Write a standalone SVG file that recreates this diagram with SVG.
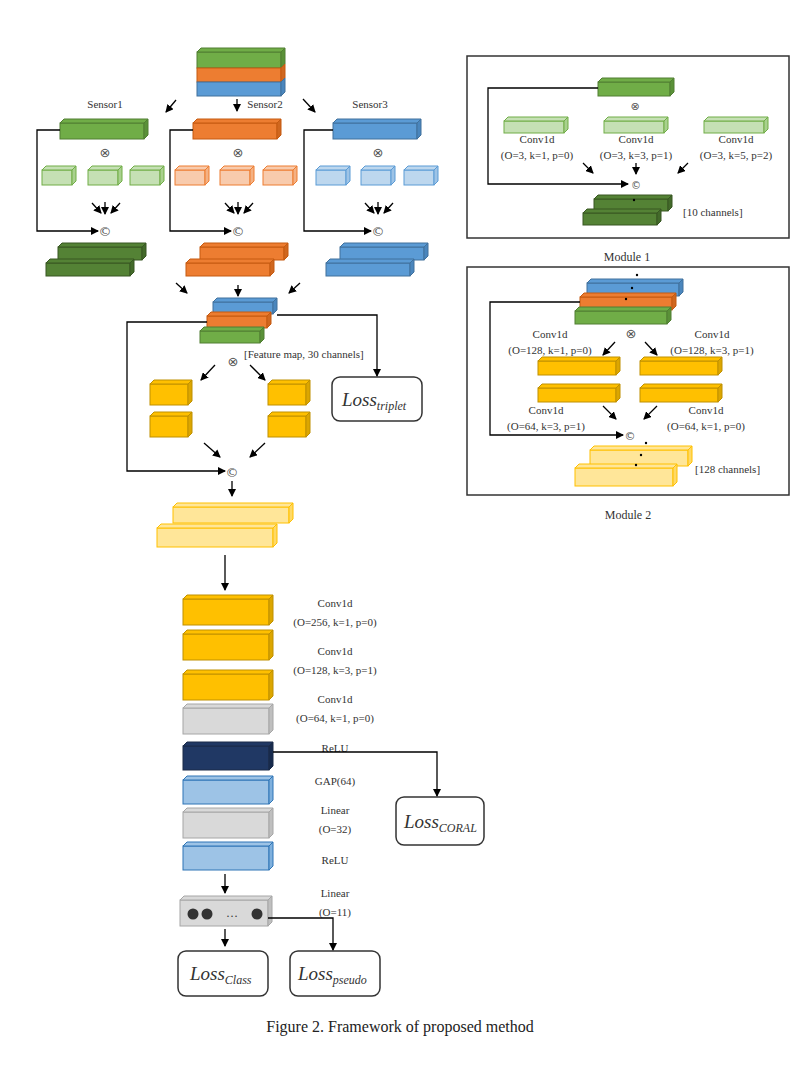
<svg xmlns="http://www.w3.org/2000/svg" width="812" height="1089" viewBox="0 0 812 1089">
<defs>
<marker id="ah" markerWidth="8" markerHeight="8" refX="7" refY="4" orient="auto" markerUnits="userSpaceOnUse"><path d="M0,0 L8,4 L0,8Z" fill="#000"/></marker>
</defs>
<style>
text{font-family:"Liberation Serif",serif;font-size:11px;fill:#333}
.sym{font-family:"DejaVu Sans",sans-serif;font-size:13px;fill:#555;text-anchor:middle}
.c{text-anchor:middle}
.ln{fill:none;stroke:#000;stroke-width:1.3}
.ar{fill:none;stroke:#000;stroke-width:1.3;marker-end:url(#ah)}
.loss{fill:#fff;stroke:#333;stroke-width:1.5}
.lt{font-style:italic;font-size:19px;fill:#333}
.lt tspan{font-size:12px}
.g *{stroke:#507e32;stroke-width:1}.g .f,.g .t{fill:#70ad47}.g .s{fill:#5a9138}
.o *{stroke:#c55a11;stroke-width:1}.o .f,.o .t{fill:#ed7d31}.o .s{fill:#d0671f}
.b *{stroke:#41719c;stroke-width:1}.b .f,.b .t{fill:#5b9bd5}.b .s{fill:#4a86bd}
.lg *{stroke:#70ad47;stroke-width:1}.lg .f,.lg .t{fill:#c5e0b4}.lg .s{fill:#a9d18e}
.lo *{stroke:#ed7d31;stroke-width:1}.lo .f,.lo .t{fill:#f8cbad}.lo .s{fill:#f4b183}
.lb *{stroke:#5b9bd5;stroke-width:1}.lb .f,.lb .t{fill:#bdd7ee}.lb .s{fill:#9dc3e6}
.dg *{stroke:#385723;stroke-width:1}.dg .f,.dg .t{fill:#548235}.dg .s{fill:#436a2a}
.y *{stroke:#bf9000;stroke-width:1}.y .f,.y .t{fill:#ffc000}.y .s{fill:#dca600}
.ly *{stroke:#ffc000;stroke-width:1}.ly .f,.ly .t{fill:#ffe699}.ly .s{fill:#ffd966}
.gr *{stroke:#a6a6a6;stroke-width:1}.gr .f,.gr .t{fill:#d9d9d9}.gr .s{fill:#bfbfbf}
.nv *{stroke:#1a2a48;stroke-width:1}.nv .f,.nv .t{fill:#203864}.nv .s{fill:#172a4d}
.pb *{stroke:#2e75b6;stroke-width:1}.pb .f,.pb .t{fill:#9dc3e6}.pb .s{fill:#7fb0dd}
.frame{fill:none;stroke:#333;stroke-width:1.5}
</style>
<rect width="812" height="1089" fill="#fff"/>

<g id="input">
<g class="g"><rect class="f" x="197" y="52" width="84" height="16"/><path class="t" d="M197,52L201,48L285,48L281,52Z"/><path class="s" d="M281,52L285,48L285,64L281,68Z"/></g>
<g class="o"><rect class="f" x="197" y="68" width="84" height="14"/><path class="s" d="M281,68L285,64L285,78L281,82Z"/></g>
<g class="b"><rect class="f" x="197" y="82" width="84" height="14"/><path class="s" d="M281,82L285,78L285,92L281,96Z"/></g>
</g>

<g id="labels-sensors">
<text x="105" y="108" class="c">Sensor1</text>
<text x="265" y="108" class="c">Sensor2</text>
<text x="370" y="108" class="c">Sensor3</text>
</g>

<g id="sensor1">
<g class="g"><rect class="f" x="60" y="123" width="84" height="16"/><path class="t" d="M60,123L64,119L148,119L144,123Z"/><path class="s" d="M144,123L148,119L148,135L144,139Z"/></g>
<g class="lg"><rect class="f" x="42" y="170" width="30" height="15"/><path class="t" d="M42,170L46,166L76,166L72,170Z"/><path class="s" d="M72,170L76,166L76,181L72,185Z"/></g>
<g class="lg"><rect class="f" x="88" y="170" width="30" height="15"/><path class="t" d="M88,170L92,166L122,166L118,170Z"/><path class="s" d="M118,170L122,166L122,181L118,185Z"/></g>
<g class="lg"><rect class="f" x="130" y="170" width="30" height="15"/><path class="t" d="M130,170L134,166L164,166L160,170Z"/><path class="s" d="M160,170L164,166L164,181L160,185Z"/></g>
<g class="dg"><rect class="f" x="58" y="247" width="84" height="13"/><path class="t" d="M58,247L62,243L146,243L142,247Z"/><path class="s" d="M142,247L146,243L146,256L142,260Z"/></g>
<g class="dg"><rect class="f" x="46" y="263" width="84" height="13"/><path class="t" d="M46,263L50,259L134,259L130,263Z"/><path class="s" d="M130,263L134,259L134,272L130,276Z"/></g>
<text x="105" y="157" class="sym">⊗</text><text x="105" y="236" class="sym">©</text>
</g>

<g id="sensor2">
<g class="o"><rect class="f" x="193" y="123" width="84" height="16"/><path class="t" d="M193,123L197,119L281,119L277,123Z"/><path class="s" d="M277,123L281,119L281,135L277,139Z"/></g>
<g class="lo"><rect class="f" x="175" y="170" width="30" height="15"/><path class="t" d="M175,170L179,166L209,166L205,170Z"/><path class="s" d="M205,170L209,166L209,181L205,185Z"/></g>
<g class="lo"><rect class="f" x="220" y="170" width="30" height="15"/><path class="t" d="M220,170L224,166L254,166L250,170Z"/><path class="s" d="M250,170L254,166L254,181L250,185Z"/></g>
<g class="lo"><rect class="f" x="263" y="170" width="30" height="15"/><path class="t" d="M263,170L267,166L297,166L293,170Z"/><path class="s" d="M293,170L297,166L297,181L293,185Z"/></g>
<g class="o"><rect class="f" x="200" y="247" width="84" height="13"/><path class="t" d="M200,247L204,243L288,243L284,247Z"/><path class="s" d="M284,247L288,243L288,256L284,260Z"/></g>
<g class="o"><rect class="f" x="186" y="263" width="84" height="13"/><path class="t" d="M186,263L190,259L274,259L270,263Z"/><path class="s" d="M270,263L274,259L274,272L270,276Z"/></g>
<text x="238" y="157" class="sym">⊗</text><text x="238" y="236" class="sym">©</text>
</g>

<g id="sensor3">
<g class="b"><rect class="f" x="333" y="123" width="84" height="16"/><path class="t" d="M333,123L337,119L421,119L417,123Z"/><path class="s" d="M417,123L421,119L421,135L417,139Z"/></g>
<g class="lb"><rect class="f" x="316" y="170" width="30" height="15"/><path class="t" d="M316,170L320,166L350,166L346,170Z"/><path class="s" d="M346,170L350,166L350,181L346,185Z"/></g>
<g class="lb"><rect class="f" x="361" y="170" width="30" height="15"/><path class="t" d="M361,170L365,166L395,166L391,170Z"/><path class="s" d="M391,170L395,166L395,181L391,185Z"/></g>
<g class="lb"><rect class="f" x="404" y="170" width="30" height="15"/><path class="t" d="M404,170L408,166L438,166L434,170Z"/><path class="s" d="M434,170L438,166L438,181L434,185Z"/></g>
<g class="b"><rect class="f" x="340" y="247" width="84" height="13"/><path class="t" d="M340,247L344,243L428,243L424,247Z"/><path class="s" d="M424,247L428,243L428,256L424,260Z"/></g>
<g class="b"><rect class="f" x="326" y="263" width="84" height="13"/><path class="t" d="M326,263L330,259L414,259L410,263Z"/><path class="s" d="M410,263L414,259L414,272L410,276Z"/></g>
<text x="378" y="157" class="sym">⊗</text><text x="378" y="236" class="sym">©</text>
</g>

<g id="module2-main">
<g class="b"><rect class="f" x="213" y="302" width="60" height="12"/><path class="t" d="M213,302L217,298L277,298L273,302Z"/><path class="s" d="M273,302L277,298L277,310L273,314Z"/></g>
<g class="o"><rect class="f" x="207" y="316" width="60" height="12"/><path class="t" d="M207,316L211,312L271,312L267,316Z"/><path class="s" d="M267,316L271,312L271,324L267,328Z"/></g>
<g class="g"><rect class="f" x="200" y="331" width="60" height="12"/><path class="t" d="M200,331L204,327L264,327L260,331Z"/><path class="s" d="M260,331L264,327L264,339L260,343Z"/></g>
<text x="233" y="366" class="sym">⊗</text>
<text x="244" y="358">[Feature map, 30 channels]</text>
<g class="y"><rect class="f" x="150" y="384" width="38" height="21"/><path class="t" d="M150,384L154,380L192,380L188,384Z"/><path class="s" d="M188,384L192,380L192,401L188,405Z"/></g>
<g class="y"><rect class="f" x="150" y="416" width="38" height="21"/><path class="t" d="M150,416L154,412L192,412L188,416Z"/><path class="s" d="M188,416L192,412L192,433L188,437Z"/></g>
<g class="y"><rect class="f" x="268" y="384" width="38" height="21"/><path class="t" d="M268,384L272,380L310,380L306,384Z"/><path class="s" d="M306,384L310,380L310,401L306,405Z"/></g>
<g class="y"><rect class="f" x="268" y="416" width="38" height="21"/><path class="t" d="M268,416L272,412L310,412L306,416Z"/><path class="s" d="M306,416L310,412L310,433L306,437Z"/></g>
<text x="232" y="477" class="sym">©</text>
<g class="ly"><rect class="f" x="173" y="507" width="116" height="16"/><path class="t" d="M173,507L177,503L293,503L289,507Z"/><path class="s" d="M289,507L293,503L293,519L289,523Z"/></g>
<g class="ly"><rect class="f" x="157" y="528" width="116" height="19"/><path class="t" d="M157,528L161,524L277,524L273,528Z"/><path class="s" d="M273,528L277,524L277,543L273,547Z"/></g>
</g>

<g id="loss-triplet"><rect class="loss" x="332" y="377" width="90" height="44" rx="8"/><text x="342" y="406" class="lt">Loss<tspan dy="4">triplet</tspan></text></g>

<g id="head">
<g class="y"><rect class="f" x="183" y="599" width="86" height="26"/><path class="t" d="M183,599L187,595L273,595L269,599Z"/><path class="s" d="M269,599L273,595L273,621L269,625Z"/></g>
<g class="y"><rect class="f" x="183" y="634" width="86" height="26"/><path class="t" d="M183,634L187,630L273,630L269,634Z"/><path class="s" d="M269,634L273,630L273,656L269,660Z"/></g>
<g class="y"><rect class="f" x="183" y="674" width="86" height="26"/><path class="t" d="M183,674L187,670L273,670L269,674Z"/><path class="s" d="M269,674L273,670L273,696L269,700Z"/></g>
<g class="gr"><rect class="f" x="183" y="708" width="86" height="26"/><path class="t" d="M183,708L187,704L273,704L269,708Z"/><path class="s" d="M269,708L273,704L273,730L269,734Z"/></g>
<g class="nv"><rect class="f" x="183" y="746" width="86" height="24"/><path class="t" d="M183,746L187,742L273,742L269,746Z"/><path class="s" d="M269,746L273,742L273,766L269,770Z"/></g>
<g class="pb"><rect class="f" x="183" y="780" width="86" height="24"/><path class="t" d="M183,780L187,776L273,776L269,780Z"/><path class="s" d="M269,780L273,776L273,800L269,804Z"/></g>
<g class="gr"><rect class="f" x="183" y="812" width="86" height="26"/><path class="t" d="M183,812L187,808L273,808L269,812Z"/><path class="s" d="M269,812L273,808L273,834L269,838Z"/></g>
<g class="pb"><rect class="f" x="183" y="846" width="86" height="24"/><path class="t" d="M183,846L187,842L273,842L269,846Z"/><path class="s" d="M269,846L273,842L273,866L269,870Z"/></g>
<text x="335" y="607" class="c">Conv1d</text><text x="335" y="626" class="c">(O=256, k=1, p=0)</text>
<text x="335" y="655" class="c">Conv1d</text><text x="335" y="674" class="c">(O=128, k=3, p=1)</text>
<text x="335" y="703" class="c">Conv1d</text><text x="335" y="722" class="c">(O=64, k=1, p=0)</text>
<text x="335" y="752" class="c">ReLU</text>
<text x="335" y="785" class="c">GAP(64)</text>
<text x="335" y="814" class="c">Linear</text><text x="335" y="833" class="c">(O=32)</text>
<text x="335" y="864" class="c">ReLU</text>
<text x="335" y="897" class="c">Linear</text><text x="335" y="916" class="c">(O=11)</text>
</g>

<g id="classifier">
<g class="gr"><rect class="f" x="180" y="900" width="88" height="26"/><path class="t" d="M180,900L184,896L272,896L268,900Z"/><path class="s" d="M268,900L272,896L272,922L268,926Z"/></g>
<circle cx="193" cy="914" r="5.5" fill="#333"/><circle cx="207" cy="914" r="5.5" fill="#333"/><circle cx="257" cy="914" r="5.5" fill="#333"/>
<text x="232" y="917" class="c" style="font-size:12px">…</text>
</g>

<g id="loss-coral"><rect class="loss" x="396" y="797" width="88" height="48" rx="8"/><text x="404" y="828" class="lt">Loss<tspan dy="4">CORAL</tspan></text></g>
<g id="loss-class"><rect class="loss" x="178" y="951" width="90" height="45" rx="8"/><text x="190" y="980" class="lt">Loss<tspan dy="4">Class</tspan></text></g>
<g id="loss-pseudo"><rect class="loss" x="290" y="951" width="90" height="45" rx="8"/><text x="298" y="980" class="lt">Loss<tspan dy="4">pseudo</tspan></text></g>

<g id="module1">
<rect class="frame" x="467" y="56" width="322" height="182"/>
<g class="g"><rect class="f" x="598" y="82" width="72" height="14"/><path class="t" d="M598,82L602,78L674,78L670,82Z"/><path class="s" d="M670,82L674,78L674,92L670,96Z"/></g>
<text x="635" y="110" class="sym" style="font-size:11px">⊗</text>
<g class="lg"><rect class="f" x="504" y="121" width="60" height="12"/><path class="t" d="M504,121L508,117L568,117L564,121Z"/><path class="s" d="M564,121L568,117L568,129L564,133Z"/></g>
<g class="lg"><rect class="f" x="604" y="121" width="60" height="12"/><path class="t" d="M604,121L608,117L668,117L664,121Z"/><path class="s" d="M664,121L668,117L668,129L664,133Z"/></g>
<g class="lg"><rect class="f" x="704" y="121" width="60" height="12"/><path class="t" d="M704,121L708,117L768,117L764,121Z"/><path class="s" d="M764,121L768,117L768,129L764,133Z"/></g>
<text x="537" y="143" class="c">Conv1d</text><text x="537" y="159" class="c">(O=3, k=1, p=0)</text>
<text x="636" y="143" class="c">Conv1d</text><text x="636" y="159" class="c">(O=3, k=3, p=1)</text>
<text x="736" y="143" class="c">Conv1d</text><text x="736" y="159" class="c">(O=3, k=5, p=2)</text>
<text x="636" y="189" class="sym" style="font-size:10px">©</text>
<g class="dg"><rect class="f" x="594" y="199" width="74" height="12"/><path class="t" d="M594,199L598,195L672,195L668,199Z"/><path class="s" d="M668,199L672,195L672,207L668,211Z"/></g>
<g class="dg"><rect class="f" x="583" y="213" width="74" height="12"/><path class="t" d="M583,213L587,209L661,209L657,213Z"/><path class="s" d="M657,213L661,209L661,221L657,225Z"/></g>
<circle cx="634" cy="200" r="1.2" fill="#000"/>
<text x="683" y="216">[10 channels]</text>
<text x="627" y="261" class="c" style="font-size:12px">Module 1</text>
</g>

<g id="module2">
<rect class="frame" x="467" y="267" width="322" height="228"/>
<g class="b"><rect class="f" x="587" y="283" width="92" height="13"/><path class="t" d="M587,283L591,279L683,279L679,283Z"/><path class="s" d="M679,283L683,279L683,292L679,296Z"/></g>
<g class="o"><rect class="f" x="580" y="297" width="92" height="13"/><path class="t" d="M580,297L584,293L676,293L672,297Z"/><path class="s" d="M672,297L676,293L676,306L672,310Z"/></g>
<g class="g"><rect class="f" x="575" y="311" width="92" height="13"/><path class="t" d="M575,311L579,307L671,307L667,311Z"/><path class="s" d="M667,311L671,307L671,320L667,324Z"/></g>
<circle cx="637" cy="275" r="1.2" fill="#000"/><circle cx="632" cy="288" r="1.2" fill="#000"/><circle cx="626" cy="299" r="1.2" fill="#000"/>
<text x="631" y="338" class="sym">⊗</text>
<text x="550" y="338" class="c">Conv1d</text><text x="550" y="354" class="c">(O=128, k=1, p=0)</text>
<text x="712" y="338" class="c">Conv1d</text><text x="712" y="354" class="c">(O=128, k=3, p=1)</text>
<g class="y"><rect class="f" x="538" y="361" width="78" height="14"/><path class="t" d="M538,361L542,357L620,357L616,361Z"/><path class="s" d="M616,361L620,357L620,371L616,375Z"/></g>
<g class="y"><rect class="f" x="640" y="361" width="78" height="14"/><path class="t" d="M640,361L644,357L722,357L718,361Z"/><path class="s" d="M718,361L722,357L722,371L718,375Z"/></g>
<g class="y"><rect class="f" x="538" y="388" width="78" height="14"/><path class="t" d="M538,388L542,384L620,384L616,388Z"/><path class="s" d="M616,388L620,384L620,398L616,402Z"/></g>
<g class="y"><rect class="f" x="640" y="388" width="78" height="14"/><path class="t" d="M640,388L644,384L722,384L718,388Z"/><path class="s" d="M718,388L722,384L722,398L718,402Z"/></g>
<text x="546" y="414" class="c">Conv1d</text><text x="546" y="430" class="c">(O=64, k=3, p=1)</text>
<text x="706" y="414" class="c">Conv1d</text><text x="706" y="430" class="c">(O=64, k=1, p=0)</text>
<text x="630" y="440" class="sym" style="font-size:11px">©</text>
<g class="ly"><rect class="f" x="590" y="450" width="98" height="16"/><path class="t" d="M590,450L594,446L692,446L688,450Z"/><path class="s" d="M688,450L692,446L692,462L688,466Z"/></g>
<g class="ly"><rect class="f" x="575" y="468" width="98" height="18"/><path class="t" d="M575,468L579,464L677,464L673,468Z"/><path class="s" d="M673,468L677,464L677,482L673,486Z"/></g>
<circle cx="646" cy="443" r="1.2" fill="#000"/><circle cx="641" cy="455" r="1.2" fill="#000"/><circle cx="636" cy="465" r="1.2" fill="#000"/>
<text x="695" y="473">[128 channels]</text>
<text x="628" y="519" class="c" style="font-size:12px">Module 2</text>
</g>

<g id="connectors">
<path class="ar" d="M176,100L166,112"/><path class="ar" d="M237,99L237,111"/><path class="ar" d="M303,99L315,112"/>
<path class="ar" d="M60,130L37,130L37,231L98,231"/>
<path class="ar" d="M193,130L170,130L170,231L231,231"/>
<path class="ar" d="M333,130L304,130L304,231L371,231"/>
<path class="ar" d="M92,203L101,213"/><path class="ar" d="M105,202L105,214"/><path class="ar" d="M120,203L111,213"/>
<path class="ar" d="M225,203L234,213"/><path class="ar" d="M238,202L238,214"/><path class="ar" d="M253,203L244,213"/>
<path class="ar" d="M365,203L374,213"/><path class="ar" d="M378,202L378,214"/><path class="ar" d="M393,203L384,213"/>
<path class="ar" d="M176,283L187,293"/><path class="ar" d="M238,285L238,296"/><path class="ar" d="M300,283L289,293"/>
<path class="ar" d="M207,322L127,322L127,471L225,471"/>
<path class="ar" d="M277,315L377,315L377,376"/>
<path class="ar" d="M215,365L201,380"/><path class="ar" d="M250,365L265,380"/>
<path class="ar" d="M204,443L220,457"/><path class="ar" d="M265,443L250,457"/>
<path class="ar" d="M232,481L232,496"/>
<path class="ar" d="M225,555L225,590"/>
<path class="ar" d="M273,752L437,752L437,796"/>
<path class="ar" d="M225,874L225,893"/>
<path class="ar" d="M268,918L333,918L333,950"/>
<path class="ar" d="M225,929L225,946"/>
<path class="ar" d="M598,88L488,88L488,184L628,184"/>
<path class="ar" d="M583,163L593,173"/><path class="ar" d="M636,163L636,174"/><path class="ar" d="M688,163L678,173"/>
<path class="ar" d="M580,302L490,302L490,435L623,435"/>
<path class="ar" d="M615,342L603,355"/><path class="ar" d="M645,342L657,355"/>
<path class="ar" d="M603,406L616,419"/><path class="ar" d="M657,406L644,419"/>
</g>

<text x="400" y="1032" class="c" style="font-size:16px;fill:#222">Figure 2. Framework of proposed method</text>
</svg>
